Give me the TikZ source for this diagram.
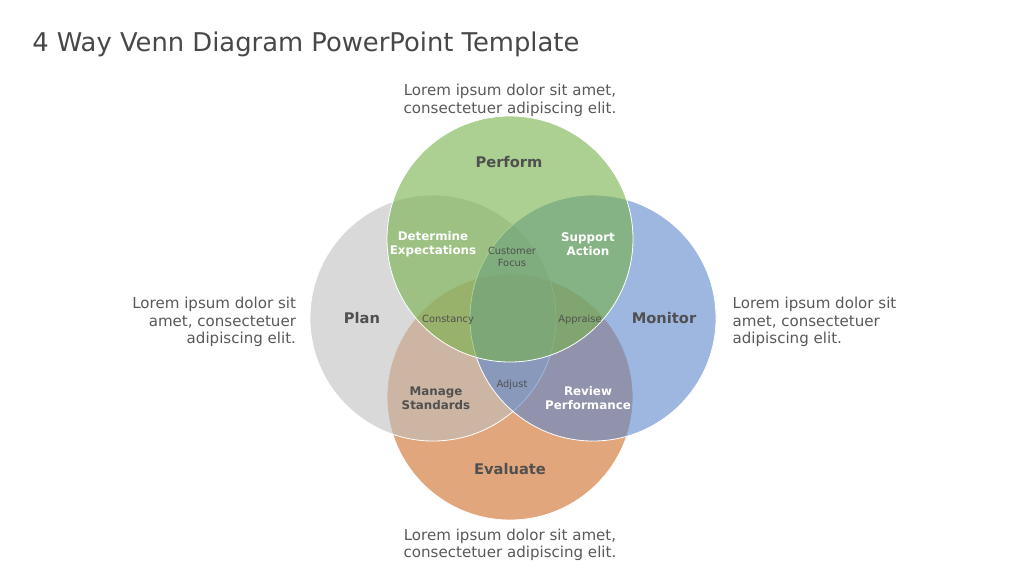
\documentclass[tikz,border=0pt]{standalone}
\usepackage{fontspec}
\setmainfont{DejaVu Sans}
\usetikzlibrary{positioning}
\definecolor{planGray}{RGB}{192,192,192}
\definecolor{performGreen}{RGB}{117,177,72}
\definecolor{monitorBlue}{RGB}{92,135,205}
\definecolor{evaluateOrange}{RGB}{207,107,37}
\definecolor{textGray}{RGB}{89,89,89}
\definecolor{labelGray}{RGB}{80,80,80}

\begin{document}
\begin{tikzpicture}
[
x=0.75pt, y=-0.75pt,
set-a/.style={circle, draw=white, line width=0.6pt, fill opacity=0.6, minimum size=184.5pt, inner sep=0pt},
name-a/.style={text=labelGray, font=\fontsize{11}{13}\selectfont\bfseries},
zone-a/.style={text=white, font=\fontsize{8.9}{10.3}\selectfont\bfseries, align=center},
zone-b/.style={text=labelGray, font=\fontsize{8.9}{10.3}\selectfont\bfseries, align=center},
core-a/.style={text=labelGray, font=\fontsize{7.4}{8.6}\selectfont, align=center},
note-a/.style={text=textGray, font=\fontsize{11.3}{13.2}\selectfont, inner sep=1pt}
]
\fill[white] (0,0) rectangle (1024,576);
\useasboundingbox (0,0) rectangle (1024,576);
\node (title) [anchor=base west, text=labelGray!90!black, font=\fontsize{19.35}{22}\selectfont, inner sep=0pt] at (32,51) {4 Way Venn Diagram PowerPoint Template};
% the four sets
\node (evaluate) [set-a, fill=evaluateOrange] at (510,397) {};
\node (plan)     [set-a, fill=planGray]       at (433,318) {};
\node (monitor)  [set-a, fill=monitorBlue]    at (593,318) {};
\node (perform)  [set-a, fill=performGreen]   at (510,239) {};
% set names
\node (perform-name)  [name-a] at (509,162) {Perform};
\node (plan-name)     [name-a] at (362,318) {Plan};
\node (monitor-name)  [name-a] at (664,318) {Monitor};
\node (evaluate-name) [name-a] at (510,469) {Evaluate};
% overlaps
\node (pl-pe) [zone-a] at (433,244) {Determine\\Expectations};
\node (pe-mo) [zone-a] at (588,244) {Support\\Action};
\node (pl-ev) [zone-b] at (436,398) {Manage\\Standards};
\node (mo-ev) [zone-a] at (588,398) {Review\\Performance};
\node (focus)     [core-a] at (512,257) {Customer\\Focus};
\node (constancy) [core-a] at (448,320) {Constancy};
\node (appraise)  [core-a] at (580,320) {Appraise};
\node (adjust)    [core-a] at (512,385) {Adjust};
% notes
\node (note-top)    [note-a, align=center, above = -2pt of perform] {Lorem ipsum dolor sit amet,\\consectetuer adipiscing elit.};
\node (note-bottom) [note-a, align=center, below = 5pt of evaluate] {Lorem ipsum dolor sit amet,\\consectetuer adipiscing elit.};
\node (note-left)   [note-a, align=right,  left  = 9pt of plan, yshift=-3pt]     {Lorem ipsum dolor sit\\amet, consectetuer\\adipiscing elit.};
\node (note-right)  [note-a, align=left,   right = 11pt of monitor, yshift=-3pt] {Lorem ipsum dolor sit\\amet, consectetuer\\adipiscing elit.};
\end{tikzpicture}
\end{document}
